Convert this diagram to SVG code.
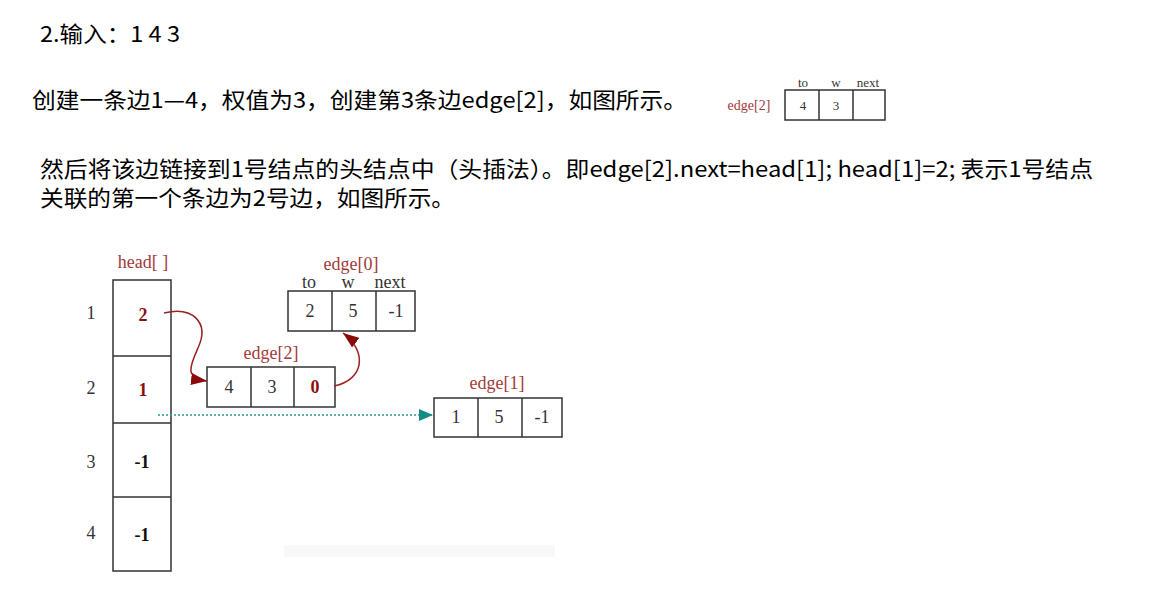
<svg xmlns="http://www.w3.org/2000/svg" width="1160" height="616" viewBox="0 0 1160 616">
<style>
.cn{font-family:"Noto Sans CJK SC","Liberation Sans",sans-serif;font-size:22px;fill:#000}
.box{fill:#fff;stroke:#333;stroke-width:1.5}
.ln{stroke:#333;stroke-width:1.5}
.s{font-family:"Liberation Serif",serif;font-size:18px;fill:#333;text-anchor:middle}
.ss{font-family:"Liberation Serif",serif;font-size:13px;fill:#333;text-anchor:middle}
.lab{font-family:"Liberation Serif",serif;font-size:18px;fill:#a13a3a;text-anchor:middle}
.b{font-weight:bold}
.red{fill:#8b1010}
.curve{fill:none;stroke:#9b2020;stroke-width:1.5}
</style>
<defs>
<marker id="ar" viewBox="0 0 16 12" refX="16" refY="6" markerWidth="16" markerHeight="12" markerUnits="userSpaceOnUse" orient="auto">
<path d="M0,0 L16,6 L0,12 Z" fill="#8b0a0a"/>
</marker>
<marker id="at" viewBox="0 0 14 12" refX="14" refY="6" markerWidth="14" markerHeight="12" markerUnits="userSpaceOnUse" orient="auto">
<path d="M0,0 L14,6 L0,12 Z" fill="#168a88"/>
</marker>
</defs>
<rect width="1160" height="616" fill="#fff"/>
<g id="text">
<text class="cn" x="40" y="42" textLength="140" lengthAdjust="spacingAndGlyphs">2.输入：1 4 3</text>
<text class="cn" x="32" y="108" textLength="655" lengthAdjust="spacingAndGlyphs">创建一条边1—4，权值为3，创建第3条边edge[2]，如图所示。</text>
<text class="cn" x="40" y="177" textLength="1053" lengthAdjust="spacingAndGlyphs">然后将该边链接到1号结点的头结点中（头插法）。即edge[2].next=head[1]; head[1]=2; 表示1号结点</text>
<text class="cn" x="40" y="206" textLength="415" lengthAdjust="spacingAndGlyphs">关联的第一个条边为2号边，如图所示。</text>
</g>
<g id="small-edge2">
<text class="lab" x="749" y="110" style="font-size:14px">edge[2]</text>
<text class="ss" x="803" y="87">to</text>
<text class="ss" x="836" y="87">w</text>
<text class="ss" x="868" y="87">next</text>
<rect class="box" x="785" y="90" width="100" height="30"/>
<line class="ln" x1="819" y1="90" x2="819" y2="120"/>
<line class="ln" x1="853" y1="90" x2="853" y2="120"/>
<text class="ss" x="803" y="110">4</text>
<text class="ss" x="836" y="110">3</text>
</g>
<g id="head">
<text class="lab" x="143" y="268">head[ ]</text>
<rect class="box" x="113" y="280" width="58" height="291"/>
<line class="ln" x1="113" y1="356" x2="171" y2="356"/>
<line class="ln" x1="113" y1="423" x2="171" y2="423"/>
<line class="ln" x1="113" y1="497" x2="171" y2="497"/>
<text class="s" x="91" y="319">1</text>
<text class="s" x="91" y="394">2</text>
<text class="s" x="91" y="468">3</text>
<text class="s" x="91" y="539">4</text>
<text class="s b red" x="143" y="321">2</text>
<text class="s b red" x="143" y="396">1</text>
<text class="s b" x="142" y="468" style="fill:#111">-1</text>
<text class="s b" x="142" y="541" style="fill:#111">-1</text>
</g>
<g id="edge0">
<text class="lab" x="351" y="270">edge[0]</text>
<text class="s" x="309" y="288">to</text>
<text class="s" x="348" y="288">w</text>
<text class="s" x="390" y="288">next</text>
<rect class="box" x="288" y="291" width="127" height="40"/>
<line class="ln" x1="332" y1="291" x2="332" y2="331"/>
<line class="ln" x1="376" y1="291" x2="376" y2="331"/>
<text class="s" x="310" y="317">2</text>
<text class="s" x="353" y="317">5</text>
<text class="s" x="396" y="317">-1</text>
</g>
<g id="edge2">
<text class="lab" x="271" y="359">edge[2]</text>
<rect class="box" x="207" y="367" width="128" height="40"/>
<line class="ln" x1="251" y1="367" x2="251" y2="407"/>
<line class="ln" x1="294" y1="367" x2="294" y2="407"/>
<text class="s" x="229" y="393">4</text>
<text class="s" x="272" y="393">3</text>
<text class="s b red" x="315" y="393">0</text>
</g>
<g id="edge1">
<text class="lab" x="497" y="389">edge[1]</text>
<rect class="box" x="434" y="398" width="128" height="39"/>
<line class="ln" x1="478" y1="398" x2="478" y2="437"/>
<line class="ln" x1="522" y1="398" x2="522" y2="437"/>
<text class="s" x="456" y="423">1</text>
<text class="s" x="499" y="423">5</text>
<text class="s" x="542" y="423">-1</text>
</g>
<g id="connectors">
<path class="curve" d="M164,313 C192,306 210,322 198,348 C190,366 184,378 207,381" marker-end="url(#ar)"/>
<path class="curve" d="M334,386 C364,380 368,352 343,333" marker-end="url(#ar)"/>
<line x1="158" y1="415" x2="433" y2="415" stroke="#2a9a98" stroke-width="1.5" stroke-dasharray="2,2" marker-end="url(#at)"/>
</g>
<rect x="284" y="545" width="271" height="12" fill="#f8f8f8"/>
</svg>
